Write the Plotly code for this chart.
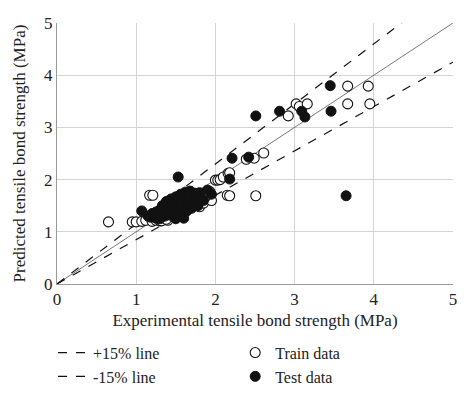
import plotly.graph_objects as go

# Train data (open circles)
train_x = [0.65, 0.95, 1.00, 1.07, 1.17, 1.21, 1.12, 1.20, 1.25, 1.30, 1.35, 1.40, 1.45, 1.50,
           1.55, 1.60, 1.65, 1.70, 1.75, 1.80, 1.85, 1.93, 1.95, 2.00, 2.03, 2.06, 2.10,
           2.15, 2.16, 2.18, 2.18, 2.39, 2.49, 2.51, 2.61, 2.92, 3.02, 3.06, 3.16,
           3.67, 3.93, 3.67, 3.95, 1.30, 1.35, 1.40, 1.45, 1.50, 1.55, 1.60, 1.65,
           1.70, 1.50, 1.55, 1.60, 1.70, 1.75, 1.80, 1.30, 1.40, 1.22, 1.28, 1.33,
           1.38, 1.48, 1.58, 1.68, 1.78, 1.62, 1.72, 1.88, 1.44, 1.52, 1.26, 1.32, 1.38]
train_y = [1.19, 1.19, 1.19, 1.20, 1.70, 1.70, 1.22, 1.20, 1.22, 1.21, 1.23, 1.22, 1.30, 1.35,
           1.40, 1.42, 1.45, 1.50, 1.52, 1.48, 1.55, 1.77, 1.60, 1.99, 1.99, 2.00, 2.05,
           1.70, 2.12, 2.13, 1.69, 2.39, 2.41, 1.69, 2.51, 3.22, 3.45, 3.40, 3.45,
           3.79, 3.79, 3.45, 3.45, 1.40, 1.45, 1.50, 1.55, 1.60, 1.62, 1.65, 1.68,
           1.70, 1.45, 1.50, 1.55, 1.60, 1.65, 1.70, 1.30, 1.38, 1.30, 1.33, 1.36,
           1.40, 1.42, 1.47, 1.55, 1.60, 1.62, 1.66, 1.68, 1.35, 1.38, 1.26, 1.21, 1.24]

# Test data (filled circles)
test_x = [1.07, 1.53, 2.21, 2.42, 2.18, 2.51, 2.81, 3.09, 3.13, 3.45, 3.46, 3.65,
          1.15, 1.20, 1.25, 1.30, 1.35, 1.40, 1.45, 1.50, 1.55, 1.60, 1.65, 1.70,
          1.75, 1.40, 1.50, 1.60, 1.55, 1.62, 1.45, 1.80, 1.90, 1.95, 1.35, 1.48,
          1.58, 1.68, 1.28, 1.52, 1.42, 1.66, 1.56, 1.72, 1.33, 1.18,
          1.38, 1.44, 1.50, 1.56, 1.62, 1.68, 1.74, 1.46, 1.52, 1.58, 1.64, 1.70,
          1.76, 1.82, 1.36, 1.42, 1.48, 1.54, 1.60, 1.66, 1.30, 1.24, 1.60, 1.64,
          1.78, 1.85, 1.50, 1.45, 1.55]
test_y = [1.40, 2.05, 2.41, 2.43, 2.01, 3.22, 3.31, 3.31, 3.20, 3.80, 3.31, 1.69,
          1.30, 1.35, 1.38, 1.42, 1.45, 1.48, 1.50, 1.52, 1.55, 1.58, 1.60, 1.62,
          1.65, 1.40, 1.45, 1.50, 1.30, 1.45, 1.60, 1.75, 1.80, 1.72, 1.35, 1.40,
          1.62, 1.70, 1.33, 1.57, 1.55, 1.52, 1.47, 1.70, 1.50, 1.28,
          1.58, 1.63, 1.67, 1.72, 1.76, 1.78, 1.74, 1.36, 1.38, 1.42, 1.40, 1.45,
          1.55, 1.64, 1.30, 1.32, 1.29, 1.33, 1.36, 1.58, 1.25, 1.27, 1.26, 1.68,
          1.50, 1.60, 1.25, 1.44, 1.64]

line_x = [0, 5]
ticks = [0, 1, 2, 3, 4, 5]

fig = go.Figure()

# y = x reference line (no legend)
fig.add_trace(go.Scatter(x=line_x, y=line_x, mode="lines",
                         line=dict(color="#555555", width=0.8), showlegend=False,
                         hoverinfo="skip"))
fig.add_trace(go.Scatter(x=line_x, y=[v * 1.15 for v in line_x], mode="lines",
                         name="+15% line", line=dict(color="#111111", width=1.2, dash="dash"),
                         legend="legend"))
fig.add_trace(go.Scatter(x=line_x, y=[v * 0.85 for v in line_x], mode="lines",
                         name="-15% line", line=dict(color="#111111", width=1.2, dash="dash"),
                         legend="legend"))
fig.add_trace(go.Scatter(x=train_x, y=train_y, mode="markers", name="Train data",
                         marker=dict(symbol="circle", size=10, color="white",
                                     line=dict(color="#111111", width=1.1)),
                         legend="legend2"))
fig.add_trace(go.Scatter(x=test_x, y=test_y, mode="markers", name="Test data",
                         marker=dict(symbol="circle", size=10, color="#111111",
                                     line=dict(color="#111111", width=1)),
                         legend="legend2"))

ff = "Liberation Serif"
fig.update_layout(
    width=466, height=391,
    margin=dict(l=49, r=21, t=15, b=115),
    paper_bgcolor="white", plot_bgcolor="white",
    font=dict(family=ff, size=17, color="#222222"),
    xaxis=dict(range=[0, 5], tickvals=ticks, showgrid=True, gridcolor="#d4d4d4",
               gridwidth=1, zeroline=False, showline=True, linecolor="#9a9a9a",
               ticks="", automargin=False, tickfont=dict(family=ff, size=17),
               title=dict(text="Experimental tensile bond strength (MPa)",
                          standoff=5, font=dict(family=ff, size=17))),
    yaxis=dict(range=[0, 5], tickvals=ticks, showgrid=True, gridcolor="#d4d4d4",
               gridwidth=1, zeroline=False, showline=True, linecolor="#9a9a9a",
               ticks="", automargin=False, tickfont=dict(family=ff, size=17),
               title=dict(text="Predicted tensile bond strength (MPa)",
                          standoff=14, font=dict(family=ff, size=17))),
    legend=dict(x=-0.01, y=0.162, yref="container", xanchor="left", yanchor="top",
                orientation="v", font=dict(family=ff, size=16), tracegroupgap=0,
                itemwidth=30, bgcolor="rgba(0,0,0,0)"),
    legend2=dict(x=0.45, y=0.162, yref="container", xanchor="left", yanchor="top",
                 orientation="v", font=dict(family=ff, size=16), tracegroupgap=0,
                 itemwidth=30, bgcolor="rgba(0,0,0,0)"),
)

fig.write_html("out.html")
